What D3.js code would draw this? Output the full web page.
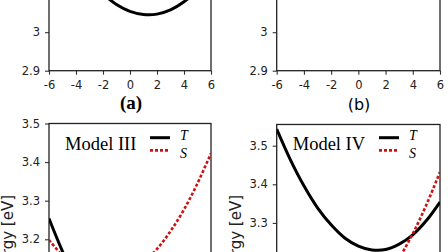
<!DOCTYPE html>
<html>
<head>
<meta charset="utf-8">
<script src="https://cdn.jsdelivr.net/npm/d3@7"></script>
<style>
  body { margin: 0; background: #fff; }
  svg { display: block; }
</style>
</head>
<body>
<script>
// 四个子图 (a)(b)(c)(d)，图片只截到一部分：上面两幅只看到底部，下面两幅只看到顶部

// 横坐标采样点
let xValues = [-6, -5, -4, -3, -2, -1, 0, 1, 2, 3, 4, 5, 6]
let xTicks = [-6, -4, -2, 0, 2, 4, 6]
let yTicks = [2.9, 3, 3.1, 3.2, 3.3, 3.4, 3.5]

// (a) 只能看到 T 曲线的最低点附近
let tA = [3.310, 3.243, 3.185, 3.138, 3.100, 3.072, 3.054, 3.046, 3.047, 3.058, 3.079, 3.110, 3.151]
// (c) Model III
let tC = [3.254, 3.169, 3.097, 3.038, 2.990, 2.955, 2.932, 2.922, 2.924, 2.938, 2.964, 3.003, 3.054]
let sC = [3.198, 3.158, 3.128, 3.109, 3.100, 3.103, 3.116, 3.140, 3.175, 3.221, 3.277, 3.345, 3.423]
// (d) Model IV
let tD = [3.543, 3.464, 3.396, 3.339, 3.295, 3.261, 3.240, 3.230, 3.231, 3.245, 3.269, 3.306, 3.354]
let sD = [3.121, 3.088, 3.065, 3.053, 3.052, 3.062, 3.082, 3.113, 3.156, 3.209, 3.272, 3.347, 3.432]

let legendKeys = ['T', 'S']
let modelNames = ['Model III', 'Model IV']
let panelLabels = ['(a)', '(b)']
let yTitle = 'Energy [eV]'

let Fig_Width = 448
let Fig_Height = 252
let lineColor = {T: '#000', S: '#cc1111'}

// 每个子图的位置（像素）
let panels = [
  {left: 49, right: 211, bottom: 70.7, domain: [2.9, 3.5], step: 38.5, series: {T: tA}, xAxis: true},
  {left: 276.7, right: 440, bottom: 70.7, domain: [2.9, 3.5], step: 38.5, series: {}, xAxis: true},
  {left: 49, right: 211, bottom: 355.1, domain: [2.9, 3.5], step: 38.6, series: {T: tC, S: sC}, model: 0},
  {left: 276.7, right: 440, bottom: 377.3, domain: [2.9, 3.555], step: 38.6, series: {T: tD, S: sD}, model: 1}
]

let svg = d3.select('body')
  .append('svg')
  .attr('width', Fig_Width)
  .attr('height', Fig_Height)

panels.forEach((p, i) => {
  let top = p.bottom - (p.domain[1] - p.domain[0]) * 10 * p.step
  let xScale = d3.scaleLinear().domain([-6, 6]).range([p.left, p.right])
  let yScale = d3.scaleLinear().domain(p.domain).range([p.bottom, top])
  let g = svg.append('g')

  // 裁剪区
  g.append('clipPath')
    .attr('id', 'clip' + i)
    .append('rect')
    .attr('x', p.left).attr('y', top)
    .attr('width', p.right - p.left).attr('height', p.bottom - top)

  // y轴：只画图片里能看到的刻度
  let yAxis = d3.axisLeft(yScale)
    .tickValues(yTicks.filter((d) => d <= p.domain[1] + 1e-9 && yScale(d) > 8 && yScale(d) < Fig_Height - 6))
    .tickSize(4).tickPadding(5)
    .tickFormat((d) => String(+d.toFixed(1)))
  g.append('g')
    .attr('transform', 'translate(' + p.left + ',0)')
    .call(yAxis)
  // x轴
  if (p.xAxis) {
    let xAxis = d3.axisBottom(xScale)
      .tickValues(xTicks)
      .tickSize(4).tickPadding(6)
      .tickFormat((d) => String(d))
    g.append('g')
      .attr('transform', 'translate(0,' + p.bottom + ')')
      .call(xAxis)
  }
  g.selectAll('.domain').remove()
  g.selectAll('.tick line').attr('stroke', '#333').attr('stroke-width', 1.1)
  g.selectAll('.tick text')
    .attr('fill', '#222')
    .style('font-family', 'DejaVu Sans')
    .style('font-size', '11.5px')

  // 边框
  g.append('rect')
    .attr('x', p.left).attr('y', top)
    .attr('width', p.right - p.left).attr('height', p.bottom - top)
    .attr('fill', 'none')
    .attr('stroke', '#222')
    .attr('stroke-width', 1.3)

  // 曲线
  let line = d3.line()
    .x((d, k) => xScale(xValues[k]))
    .y((d) => yScale(d))
    .curve(d3.curveCatmullRom)
  Object.keys(p.series).forEach((key) => {
    g.append('path')
      .attr('clip-path', 'url(#clip' + i + ')')
      .attr('d', line(p.series[key]))
      .attr('fill', 'none')
      .attr('stroke', lineColor[key])
      .attr('stroke-width', key === 'T' ? 3 : 2.6)
      .attr('stroke-dasharray', key === 'T' ? null : '3,2')
  })

  // 图例
  if (p.model !== undefined) {
    g.append('text')
      .attr('x', p.left + 16)
      .attr('y', 150)
      .style('font-family', 'Liberation Serif')
      .style('font-size', '18.5px')
      .text(modelNames[p.model])
    let lx = p.model === 0 ? 150 : 379
    legendKeys.forEach((key, k) => {
      g.append('line')
        .attr('x1', lx).attr('x2', lx + 20)
        .attr('y1', 137.7 + k * 12.7).attr('y2', 137.7 + k * 12.7)
        .attr('stroke', lineColor[key])
        .attr('stroke-width', key === 'T' ? 3 : 2.6)
        .attr('stroke-dasharray', key === 'T' ? null : '3,2')
      g.append('text')
        .attr('x', lx + 30)
        .attr('y', 139.5 + k * 18)
        .style('font-family', 'Liberation Serif')
        .style('font-style', 'italic')
        .style('font-size', '14px')
        .text(key)
    })
    // y轴标题（下半截在图片外）
    g.append('text')
      .attr('transform', 'translate(' + (p.left - 41) + ',195) rotate(-90)')
      .attr('text-anchor', 'end')
      .attr('dy', '0.35em')
      .attr('fill', '#222')
      .style('font-family', 'DejaVu Sans')
      .style('font-size', '15px')
      .text(yTitle)
  }
})

// 子图标号
svg.append('text')
  .attr('x', 131).attr('y', 109)
  .attr('text-anchor', 'middle')
  .style('font-family', 'Liberation Serif')
  .style('font-weight', '600')
  .style('font-size', '19px')
  .text(panelLabels[0])
svg.append('text')
  .attr('x', 359).attr('y', 109.6)
  .attr('text-anchor', 'middle')
  .style('font-family', 'DejaVu Sans')
  .style('font-size', '16px')
  .text(panelLabels[1])
</script>
</body>
</html>
